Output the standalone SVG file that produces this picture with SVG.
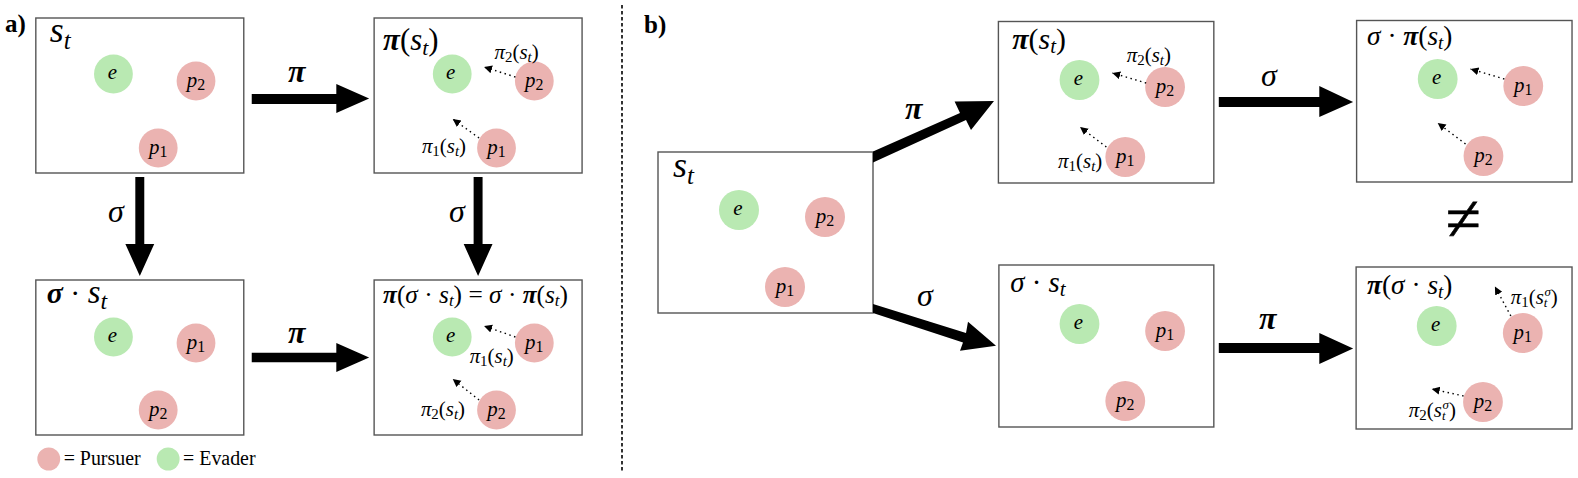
<svg xmlns="http://www.w3.org/2000/svg" width="1578" height="478" viewBox="0 0 1578 478">
<style>
text{font-family:"Liberation Serif","Times New Roman",serif;fill:#000}
.box{fill:#fff;stroke:#555;stroke-width:1.4}
.ev{fill:#b9e9b2}
.pu{fill:#ebb3b1}
.n{font-size:21px;font-style:italic;text-anchor:middle}
.n tspan{font-size:16px;font-style:normal}
.l{font-size:21px}
.b{font-weight:bold;font-style:italic}
.m{font-style:italic}
.big{font-size:32px}
.st{font-size:36px;font-style:italic}
.tag{font-size:25px;font-weight:bold}
.leg{font-size:20px}
.dot{fill:none;stroke:#000;stroke-width:1.4;stroke-dasharray:1.5 3.5;marker-end:url(#ah)}
</style>
<defs>
<marker id="ah" markerUnits="userSpaceOnUse" markerWidth="10" markerHeight="10" refX="8" refY="4" orient="auto"><path d="M0,0L8,4L0,8Z" fill="#000"/></marker>
</defs>
<rect width="1578" height="478" fill="#fff"/>

<g id="divider"><line x1="622" y1="5" x2="622" y2="472" stroke="#000" stroke-width="1.6" stroke-dasharray="3.5 2.5"/></g>
<text class="tag" x="5" y="32">a)</text>
<text class="tag" x="644" y="33">b)</text>

<g id="panel-a" transform="scale(.995 1)">
<g id="a-st">
<rect class="box" x="36" y="18" width="209" height="155"/>
<circle class="ev" cx="114" cy="74" r="19.5"/><circle class="pu" cx="197" cy="81" r="19.5"/><circle class="pu" cx="159" cy="148" r="19.5"/>
<text class="st" x="50" y="42">s<tspan font-size="25" dy="7">t</tspan></text>
<text class="n" x="113" y="79">e</text><text class="n" x="197" y="87">p<tspan dy="3">2</tspan></text><text class="n" x="159" y="154">p<tspan dy="3">1</tspan></text>
</g>
<g id="a-pi">
<rect class="box" x="376" y="18" width="209" height="155"/>
<circle class="ev" cx="454.500" cy="74" r="19.5"/><circle class="pu" cx="537" cy="81" r="19.5"/><circle class="pu" cx="499" cy="148" r="19.5"/>
<text font-size="31" x="385" y="50"><tspan class="b">π</tspan>(<tspan class="m">s</tspan><tspan class="m" font-size="22" dy="5">t</tspan><tspan dy="-5">)</tspan></text>
<text class="n" x="453" y="79">e</text><text class="n" x="537" y="87">p<tspan dy="3">2</tspan></text><text class="n" x="499" y="154">p<tspan dy="3">1</tspan></text>
<text class="l" x="497" y="59"><tspan class="m">π</tspan><tspan font-size="15" dy="3">2</tspan><tspan dy="-3">(</tspan><tspan class="m">s</tspan><tspan class="m" font-size="15" dy="3">t</tspan><tspan dy="-3">)</tspan></text>
<text class="l" x="424" y="153"><tspan class="m">π</tspan><tspan font-size="15" dy="3">1</tspan><tspan dy="-3">(</tspan><tspan class="m">s</tspan><tspan class="m" font-size="15" dy="3">t</tspan><tspan dy="-3">)</tspan></text>
</g>
<g id="a-sigma">
<rect class="box" x="36" y="280" width="209" height="155"/>
<circle class="ev" cx="114" cy="337" r="19.500"/><circle class="pu" cx="197" cy="343" r="19.5"/><circle class="pu" cx="159" cy="410" r="19.5"/>
<text font-size="30" x="47" y="303"><tspan class="b">σ</tspan> · <tspan class="m" font-size="33">s</tspan><tspan class="m" font-size="24" dy="6">t</tspan></text>
<text class="n" x="113" y="342">e</text><text class="n" x="197" y="349">p<tspan dy="3">1</tspan></text><text class="n" x="159" y="416">p<tspan dy="3">2</tspan></text>
</g>
<g id="a-eq">
<rect class="box" x="376" y="280" width="209" height="155"/>
<circle class="ev" cx="454.500" cy="337" r="19.5"/><circle class="pu" cx="537" cy="343" r="19.5"/><circle class="pu" cx="499" cy="410" r="19.5"/>
<text font-size="25.500" x="385" y="303"><tspan class="b">π</tspan>(<tspan class="m">σ</tspan> · <tspan class="m">s</tspan><tspan class="m" font-size="17" dy="3">t</tspan><tspan dy="-3">) = </tspan><tspan class="m">σ</tspan> · <tspan class="b">π</tspan>(<tspan class="m">s</tspan><tspan class="m" font-size="17" dy="3">t</tspan><tspan dy="-3">)</tspan></text>
<text class="n" x="453" y="342">e</text><text class="n" x="537" y="349">p<tspan dy="3">1</tspan></text><text class="n" x="499" y="416">p<tspan dy="3">2</tspan></text>
<text class="l" x="472" y="363"><tspan class="m">π</tspan><tspan font-size="15" dy="3">1</tspan><tspan dy="-3">(</tspan><tspan class="m">s</tspan><tspan class="m" font-size="15" dy="3">t</tspan><tspan dy="-3">)</tspan></text>
<text class="l" x="423" y="416"><tspan class="m">π</tspan><tspan font-size="15" dy="3">2</tspan><tspan dy="-3">(</tspan><tspan class="m">s</tspan><tspan class="m" font-size="15" dy="3">t</tspan><tspan dy="-3">)</tspan></text>
</g>
<g id="legend">
<circle class="pu" cx="49" cy="459" r="11.500"/><text class="leg" x="64" y="465">= Pursuer</text>
<circle class="ev" cx="169" cy="459" r="11.500"/><text class="leg" x="184" y="465">= Evader</text>
</g>
</g>

<g id="b-st">
<rect class="box" x="658" y="152" width="215" height="161"/>
<circle class="ev" cx="739" cy="210" r="20"/><circle class="pu" cx="825" cy="217" r="20"/><circle class="pu" cx="785" cy="287" r="20"/>
<text class="st" x="673" y="177">s<tspan font-size="25" dy="7">t</tspan></text>
<text class="n" x="738" y="215">e</text><text class="n" x="825" y="223">p<tspan dy="3">2</tspan></text><text class="n" x="785" y="293">p<tspan dy="3">1</tspan></text>
</g>
<g id="panel-b-right" transform="translate(4.900 0) scale(.995 1)">
<g id="b-pi">
<rect class="box" x="998.500" y="21.500" width="216.500" height="161.500"/>
<circle class="ev" cx="1080" cy="80" r="20"/><circle class="pu" cx="1166" cy="87" r="20"/><circle class="pu" cx="1126" cy="157" r="20"/>
<text font-size="30" x="1012.500" y="49"><tspan class="b">π</tspan>(<tspan class="m">s</tspan><tspan class="m" font-size="21" dy="4">t</tspan><tspan dy="-4">)</tspan></text>
<text class="n" x="1079" y="85">e</text><text class="n" x="1166" y="93">p<tspan dy="3">2</tspan></text><text class="n" x="1126" y="163">p<tspan dy="3">1</tspan></text>
<text class="l" x="1127.500" y="62"><tspan class="m">π</tspan><tspan font-size="15" dy="3">2</tspan><tspan dy="-3">(</tspan><tspan class="m">s</tspan><tspan class="m" font-size="15" dy="3">t</tspan><tspan dy="-3">)</tspan></text>
<text class="l" x="1058.500" y="168"><tspan class="m">π</tspan><tspan font-size="15" dy="3">1</tspan><tspan dy="-3">(</tspan><tspan class="m">s</tspan><tspan class="m" font-size="15" dy="3">t</tspan><tspan dy="-3">)</tspan></text>
</g>
<g id="b-sigma-pi">
<rect class="box" x="1358.500" y="20.500" width="216.500" height="161.500"/>
<circle class="ev" cx="1440" cy="79" r="20"/><circle class="pu" cx="1526" cy="86" r="20"/><circle class="pu" cx="1486" cy="156" r="20"/>
<text font-size="27.500" x="1369" y="45"><tspan class="m">σ</tspan> · <tspan class="b">π</tspan>(<tspan class="m">s</tspan><tspan class="m" font-size="19" dy="4">t</tspan><tspan dy="-4">)</tspan></text>
<text class="n" x="1439" y="84">e</text><text class="n" x="1526" y="92">p<tspan dy="3">1</tspan></text><text class="n" x="1486" y="162">p<tspan dy="3">2</tspan></text>
</g>
<g id="b-sigma">
<rect class="box" x="999" y="265" width="216" height="162"/>
<circle class="ev" cx="1080" cy="324" r="20"/><circle class="pu" cx="1166" cy="331" r="20"/><circle class="pu" cx="1126" cy="401" r="20"/>
<text font-size="29" x="1010.500" y="292"><tspan class="m">σ</tspan> · <tspan class="m">s</tspan><tspan class="m" font-size="21" dy="4">t</tspan></text>
<text class="n" x="1079" y="329">e</text><text class="n" x="1166" y="337">p<tspan dy="3">1</tspan></text><text class="n" x="1126" y="407">p<tspan dy="3">2</tspan></text>
</g>
<g id="b-pi-sigma">
<rect class="box" x="1358" y="267" width="217" height="162"/>
<circle class="ev" cx="1439" cy="326" r="20"/><circle class="pu" cx="1525.500" cy="333" r="20"/><circle class="pu" cx="1485.500" cy="402" r="20"/>
<text font-size="27.500" x="1369" y="294"><tspan class="b">π</tspan>(<tspan class="m">σ</tspan> · <tspan class="m">s</tspan><tspan class="m" font-size="19" dy="4">t</tspan><tspan dy="-4">)</tspan></text>
<text class="n" x="1438" y="331">e</text><text class="n" x="1525.500" y="339">p<tspan dy="3">1</tspan></text><text class="n" x="1485.500" y="408">p<tspan dy="3">2</tspan></text>
<text class="l" x="1513.500" y="304"><tspan class="m">π</tspan><tspan font-size="15" dy="3">1</tspan><tspan dy="-3">(</tspan><tspan class="m">s</tspan><tspan class="m" font-size="13" dy="3">t</tspan><tspan class="m" font-size="13" dx="-3" dy="-11">σ</tspan><tspan dy="8">)</tspan></text>
<text class="l" x="1411" y="417"><tspan class="m">π</tspan><tspan font-size="15" dy="3">2</tspan><tspan dy="-3">(</tspan><tspan class="m">s</tspan><tspan class="m" font-size="13" dy="3">t</tspan><tspan class="m" font-size="13" dx="-3" dy="-11">σ</tspan><tspan dy="8">)</tspan></text>
</g>
</g>

<g id="connectors">
<g transform="scale(.995 1)">
<path d="M253,94H338V84L371,98.500L338,113V104H253Z"/>
<path d="M253,352.700H338V343L371,357.500L338,372V362.300H253Z"/>
<path d="M136,177H145V244H155L140.500,276L126,244H136Z"/>
<path d="M476,177H485V244H495L480.500,276L466,244H476Z"/>
<line class="dot" x1="518" y1="77" x2="486.500" y2="67"/>
<line class="dot" x1="481.500" y1="138" x2="455" y2="119"/>
<line class="dot" x1="518" y1="337" x2="486.500" y2="326"/>
<line class="dot" x1="481.500" y1="400" x2="455" y2="379"/>
</g>
<path d="M873,151.500L960,113L954.600,101.600L994,101L971,130L966,120L873,162.500Z"/>
<path d="M873,304L966,333L968,321.700L996,345.700L960,350.700L963,342.500L873,313Z"/>
<g transform="translate(4.900 0) scale(.995 1)">
<path d="M1220,97H1321V86L1355,102L1321,117V107H1220Z"/>
<path d="M1220,343H1321V333L1355,348.500L1321,364V353H1220Z"/>
<line class="dot" x1="1147" y1="83" x2="1113" y2="73"/>
<line class="dot" x1="1107" y1="147" x2="1080.500" y2="127"/>
<line class="dot" x1="1507" y1="79" x2="1473" y2="69"/>
<line class="dot" x1="1468" y1="144" x2="1440" y2="123"/>
<line class="dot" x1="1513.500" y1="316" x2="1497.500" y2="286.500"/>
<line class="dot" x1="1466" y1="396" x2="1434" y2="389"/>
</g>
</g>
<g id="edge-labels">
<text class="b big" x="288" y="82">π</text>
<text class="b big" x="288" y="343">π</text>
<text class="m big" x="108" y="222">σ</text>
<text class="m big" x="449" y="222">σ</text>
<text class="b big" x="905" y="119">π</text>
<text class="m big" x="917" y="306">σ</text>
<text class="m big" x="1261" y="86">σ</text>
<text class="b big" x="1259" y="329">π</text>
<text font-size="64" x="1463" y="240" text-anchor="middle" stroke="#000" stroke-width="0.6">≠</text>
</g>
</svg>
